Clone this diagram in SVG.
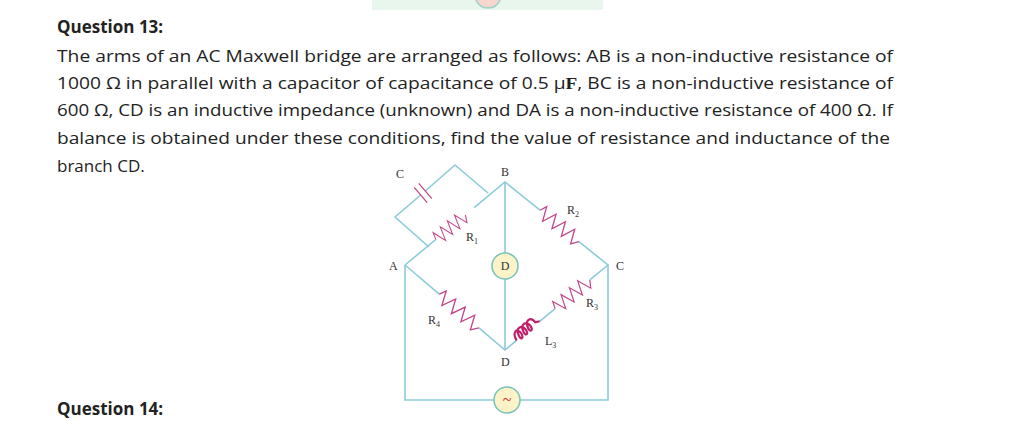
<svg xmlns="http://www.w3.org/2000/svg" xmlns:xlink="http://www.w3.org/1999/xlink" width="1022" height="424" viewBox="0 0 1022 424">
<style>
.q{font-family:"Open Sans","Liberation Sans",sans-serif;font-size:17px;fill:#222}
.b{font-weight:bold}
.w{stroke:#8ccbd8;stroke-width:1.6;fill:none}
.r{stroke:#c2478a;stroke-width:1.3;fill:none;stroke-linejoin:miter}
.l{font-family:"Liberation Serif",serif;font-size:12px;fill:#333}
.s{font-size:8px}
.m{fill:#fdf3c8;stroke:#7cc5b8;stroke-width:1.6}
</style>
<defs>
<path id="zz" class="r" d="M0 0 L3 -7 L9 7 L15 -7 L21 7 L27 -7 L33 7 L39 -7 L45 7 L50 0"/>
</defs>
<rect width="1022" height="424" fill="#fff"/>
<rect x="372" y="0" width="231" height="10" fill="#e8f6ee"/>
<path d="M476 0 A13 13 0 0 0 500 0" fill="#f6d6cf" stroke="#9fd3c6" stroke-width="1.5"/>
<text class="q b" x="57" y="33">Question 13:</text>
<text class="q" x="57" y="62" textLength="836" lengthAdjust="spacingAndGlyphs">The arms of an AC Maxwell bridge are arranged as follows: AB is a non-inductive resistance of</text>
<text class="q" x="57" y="89" textLength="836" lengthAdjust="spacingAndGlyphs">1000 Ω in parallel with a capacitor of capacitance of 0.5 μ<tspan font-family="Liberation Serif" font-weight="bold">F</tspan>, BC is a non-inductive resistance of</text>
<text class="q" x="57" y="116" textLength="836" lengthAdjust="spacingAndGlyphs">600 Ω, CD is an inductive impedance (unknown) and DA is a non-inductive resistance of 400 Ω. If</text>
<text class="q" x="57" y="144" textLength="833" lengthAdjust="spacingAndGlyphs">balance is obtained under these conditions, find the value of resistance and inductance of the</text>
<text class="q" x="57" y="172">branch CD.</text>
<text class="q b" x="57" y="415">Question 14:</text>
<g id="connectors">
<path class="w" d="M405 265 L435.8 239.5 M474.2 207.6 L505 182 L540 210.2 M578.9 241.6 L608 265 L589.8 279.9 M555.1 308.6 L539.7 321.3 M516.6 340.4 L505 350 L478.9 327.9 M439.3 294.2 L405 265"/>
<path class="w" d="M429 247 L395 217 L420.7 195 M425.3 191 L455 165 L488 193"/>
<path class="w" d="M505 182 L505 253 M505 279 L505 350"/>
<path class="w" d="M405 265 L405 400 L494 400 M520 400 L608 400 L608 265"/>
</g>
<g id="C1"><path class="r" d="M414.2 187.4 L427.2 202.6 M418.8 183.4 L431.8 198.6"/><text class="l" x="396" y="178">C</text></g>
<g id="R1"><use xlink:href="#zz" transform="translate(435.8 239.5) rotate(-39.7) scale(0.77 1)"/><text class="l" x="466" y="241">R<tspan class="s" dy="3">1</tspan></text></g>
<g id="R2"><use xlink:href="#zz" transform="translate(540 210.2) rotate(38.9)"/><text class="l" x="567" y="214">R<tspan class="s" dy="3">2</tspan></text></g>
<g id="R3"><use xlink:href="#zz" transform="translate(555.1 308.6) rotate(-39.6) scale(0.9 1)"/><text class="l" x="586" y="307">R<tspan class="s" dy="3">3</tspan></text></g>
<g id="R4"><use xlink:href="#zz" transform="translate(439.3 294.2) rotate(40.4) scale(1.04 1)"/><text class="l" x="428" y="324">R<tspan class="s" dy="3">4</tspan></text></g>
<g id="L3"><path d="M0 0 C2 -10 9 -10 8 -2 C7 3 3 3 5 -3 C7 -10 14 -10 14 -2 C13 3 9 3 11 -3 C13 -10 20 -10 20 -2 C19 3 15 3 17 -3 C19 -10 26 -10 26 -2 L30 0" fill="none" stroke="#c0206a" stroke-width="2.2" transform="translate(516.6 340.4) rotate(-39.6)"/><text class="l" x="545" y="345">L<tspan class="s" dy="3">3</tspan></text></g>
<g id="labels"><text class="l" x="501" y="176">B</text><text class="l" x="389" y="270">A</text><text class="l" x="616" y="270">C</text><text class="l" x="501" y="366">D</text></g>
<g id="Det"><circle class="m" cx="505" cy="266" r="13"/><text class="l" x="505" y="270" text-anchor="middle">D</text></g>
<g id="Src"><circle class="m" cx="507" cy="400" r="13"/><text x="507" y="405" text-anchor="middle" font-family="Liberation Serif,serif" font-size="16" fill="#d03030">~</text></g>
</svg>
